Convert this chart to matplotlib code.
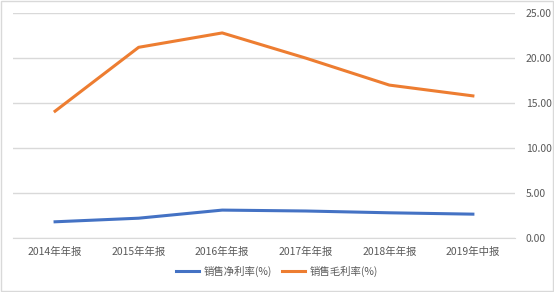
import matplotlib
matplotlib.use('Agg')
import matplotlib.pyplot as plt
import numpy as np

plt.rcParams['font.family'] = ['Noto Sans CJK SC', 'DejaVu Sans']

# 数据
categories = ['2014年年报', '2015年年报', '2016年年报', '2017年年报', '2018年年报', '2019年中报']
net_margin = [1.8, 2.2, 3.1, 3.0, 2.8, 2.65]
gross_margin = [14.1, 21.2, 22.8, 20.0, 17.0, 15.8]
yticks = [0, 5, 10, 15, 20, 25]

fig = plt.figure(figsize=(5.54, 2.92), dpi=100)
fig.patch.set_facecolor('white')
ax = fig.add_axes([0.024, 0.185, 0.905, 0.77])

x = np.arange(len(categories))
ax.plot(x, net_margin, color='#4472c4', linewidth=2.2, label='销售净利率(%)')
ax.plot(x, gross_margin, color='#ed7d31', linewidth=2.2, label='销售毛利率(%)')

ax.set_xlim(-0.5, len(categories) - 0.5)
ax.set_ylim(0, 25)
ax.set_yticks(yticks)
ax.set_yticklabels(['%.2f' % v for v in yticks])
ax.yaxis.tick_right()
ax.set_xticks(x)
ax.set_xticklabels(categories)
ax.tick_params(axis='both', length=0, labelsize=7.5, colors='#595959')
ax.tick_params(axis='y', pad=8)
ax.tick_params(axis='x', pad=6)
ax.grid(axis='y', color='#d9d9d9', linewidth=1)
ax.set_axisbelow(True)
for s in ['top', 'left', 'right']:
    ax.spines[s].set_visible(False)
ax.spines['bottom'].set_color('#d9d9d9')

fig.legend(loc='lower center', bbox_to_anchor=(0.5, 0.02), ncol=2, frameon=False,
           fontsize=7.5, handlelength=2.2, handletextpad=0.4, columnspacing=1.0,
           labelcolor='#595959')

# 外框
border = plt.Rectangle((0.002, 0.003), 0.996, 0.994, transform=fig.transFigure,
                       fill=False, edgecolor='#d9d9d9', linewidth=1)
fig.patches.append(border)

fig.savefig('out.png', dpi=100)
